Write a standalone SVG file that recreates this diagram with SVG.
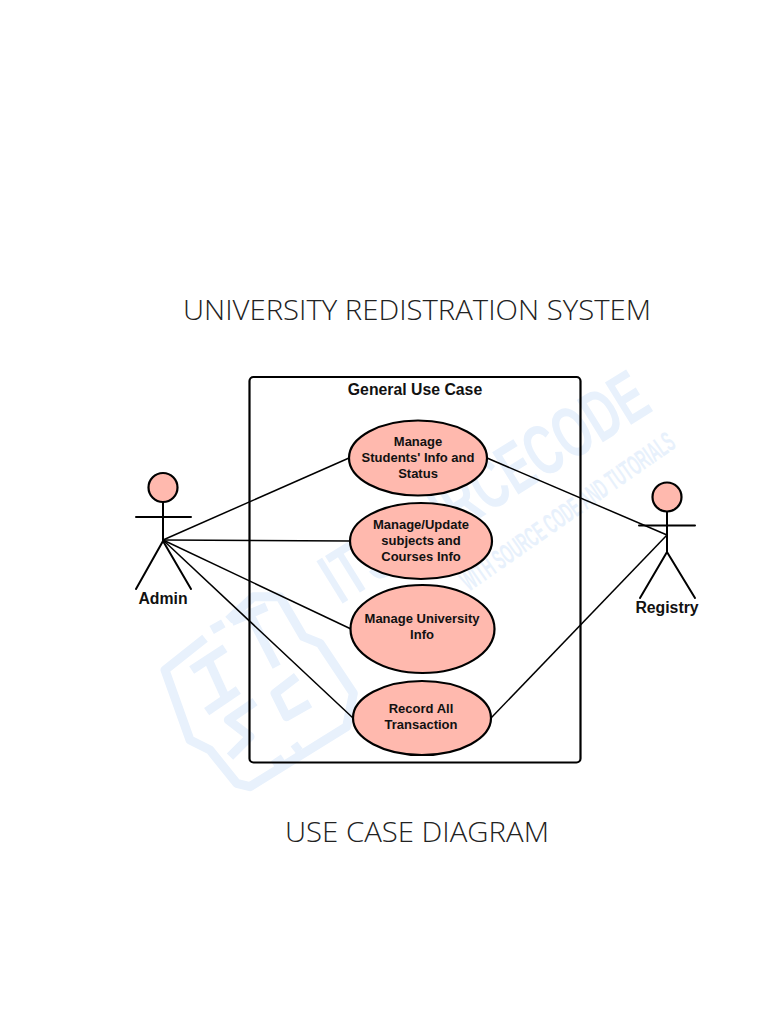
<svg xmlns="http://www.w3.org/2000/svg" width="768" height="1024" viewBox="0 0 768 1024">
<style>
.t{font-family:"Open Sans","Noto Sans",sans-serif;font-weight:300;fill:#222}
.l{font-family:"Liberation Sans",Arial,sans-serif;font-weight:bold;font-size:13px;fill:#111;text-anchor:middle}
.h{font-size:15.8px}
.u{fill:#ffb9ae;stroke:#000;stroke-width:2.2}
.s{stroke:#000;stroke-width:2;fill:none;stroke-linecap:round}
.c{stroke:#000;stroke-width:1.5;fill:none}
.w{fill:none;stroke:#e8f1fc;stroke-width:27;stroke-linejoin:round}
.wt{font-family:"Liberation Sans",Arial,sans-serif;font-weight:bold;fill:#e8f1fc}
</style>
<rect width="768" height="1024" fill="#fff"/>
<g id="watermark">
<g transform="translate(140,580) scale(0.3333)">
<path class="w" d="M195 175 L75 270 L150 480 L210 510 L290 610 L330 620 L620 440 L640 340 L540 190 L490 170 L420 50 L340 50 L265 120"/>
<path class="w" d="M215 150 L250 130"/>
<path class="w" d="M155 270 L255 205 M205 240 L255 350 M200 395 L295 330"/>
<path class="w" d="M275 125 L380 80 M330 105 L410 260"/>
<path class="w" d="M345 365 L265 420 L330 470 L270 530 M470 290 L405 340 L440 410 L510 370"/>
<path class="w" d="M460 510 L480 495 M400 555 L430 535"/>
</g>
<text class="wt" font-size="72" transform="translate(340,605) rotate(-31.8)" textLength="370" lengthAdjust="spacingAndGlyphs">ITSOURCECODE</text>
<text class="wt" font-size="28" transform="translate(469,592) rotate(-34.9)" textLength="254" lengthAdjust="spacingAndGlyphs">WITH SOURCE CODE AND TUTORIALS</text>
</g>
<text class="t" x="417" y="320" font-size="27.5" text-anchor="middle" textLength="468" lengthAdjust="spacingAndGlyphs">UNIVERSITY REDISTRATION SYSTEM</text>
<text class="t" x="417" y="842" font-size="27.5" text-anchor="middle" textLength="264" lengthAdjust="spacingAndGlyphs">USE CASE DIAGRAM</text>
<g id="boundary">
<rect x="249.500" y="377" width="331" height="385.500" rx="4" fill="none" stroke="#000" stroke-width="2.200"/>
<text class="l h" x="415" y="395">General Use Case</text>
</g>
<g id="connectors">
<path class="c" d="M163 540 L349 458"/>
<path class="c" d="M163 540 L350 541"/>
<path class="c" d="M163 540 L351 629"/>
<path class="c" d="M163 540 L353 718"/>
<path class="c" d="M487 458 L667 535"/>
<path class="c" d="M491 718 L667 535"/>
</g>
<g id="uc1"><ellipse class="u" cx="418" cy="458" rx="69" ry="37.500"/><text class="l" x="418" y="446">Manage</text><text class="l" x="418" y="462">Students' Info and</text><text class="l" x="418" y="478">Status</text></g>
<g id="uc2"><ellipse class="u" cx="421" cy="541" rx="71" ry="38"/><text class="l" x="421" y="529">Manage/Update</text><text class="l" x="421" y="545">subjects and</text><text class="l" x="421" y="561">Courses Info</text></g>
<g id="uc3"><ellipse class="u" cx="422.500" cy="629" rx="72" ry="44"/><text class="l" x="422" y="623">Manage University</text><text class="l" x="422" y="639">Info</text></g>
<g id="uc4"><ellipse class="u" cx="422" cy="718" rx="69" ry="37"/><text class="l" x="421" y="713">Record All</text><text class="l" x="421" y="729">Transaction</text></g>
<g id="admin">
<circle class="u" cx="163" cy="487.500" r="14.500"/>
<path class="s" d="M163 502 V541 M136 517 H191 M163 541 L136 589 M163 541 L191 589"/>
<text class="l h" x="163" y="604">Admin</text>
</g>
<g id="registry">
<circle class="u" cx="667" cy="497" r="14.500"/>
<path class="s" d="M667 512 V552 M639 525.500 H695 M667 552 L640 598 M667 552 L695 598"/>
<text class="l h" x="667" y="613">Registry</text>
</g>
</svg>
